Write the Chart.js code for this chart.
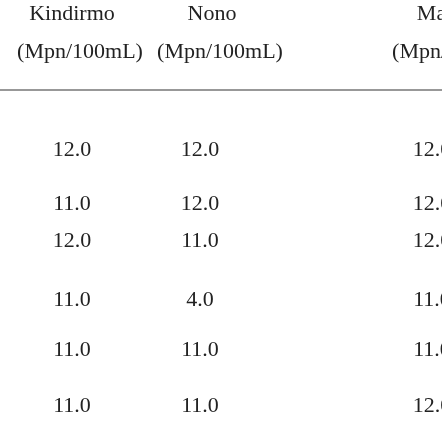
<!DOCTYPE html>
<html><head><meta charset="utf-8">
<script src="https://cdn.jsdelivr.net/npm/chart.js@4"></script>
<style>html,body{margin:0;padding:0;background:#fff}canvas{display:block}</style>
</head><body><canvas id="c" width="442" height="442" style="width:442px;height:442px"></canvas>
<script>
const columns = ["Kindirmo", "Nono", "Mad"];
const units = ["(Mpn/100mL)", "(Mpn/100mL)", "(Mpn/100mL)"];
const kindirmo = ["12.0", "11.0", "12.0", "11.0", "11.0", "11.0"];
const nono = ["12.0", "12.0", "11.0", "4.0", "11.0", "11.0"];
const mad = ["12.0", "12.0", "12.0", "11.0", "11.0", "12.0"];
const rowY = [150, 204, 241, 300, 350, 406];
const colX = [72, 200, 432];
const headX = [72, 212, 437];
const unitX = [80, 220, 455];

const pts = [];
columns.forEach((c,i)=>{pts.push({x:headX[i],y:14,t:c});pts.push({x:unitX[i],y:52,t:units[i]});});
[kindirmo,nono,mad].forEach((arr,i)=>arr.forEach((v,j)=>pts.push({x:colX[i],y:rowY[j],t:v})));

const textPlugin={id:'txt',afterDatasetsDraw(chart){
  const ctx=chart.ctx,xs=chart.scales.x,ys=chart.scales.y;
  ctx.save();ctx.fillStyle='#222';ctx.font='22px "Liberation Serif", serif';
  ctx.textAlign='center';ctx.textBaseline='middle';
  pts.forEach(p=>ctx.fillText(p.t,xs.getPixelForValue(p.x),ys.getPixelForValue(p.y)));
  ctx.restore();}};

new Chart(document.getElementById('c'),{
  type:'scatter',
  data:{datasets:[
    {data:pts.map(p=>({x:p.x,y:p.y})),pointRadius:0,showLine:false},
    {data:[{x:0,y:90},{x:442,y:90}],showLine:true,borderColor:'#333',borderWidth:1.2,pointRadius:0}
  ]},
  options:{responsive:false,animation:false,devicePixelRatio:1,
    layout:{padding:0},
    plugins:{legend:{display:false},tooltip:{enabled:false}},
    scales:{x:{display:false,min:0,max:442},y:{display:false,min:0,max:442,reverse:true}}},
  plugins:[textPlugin]
});
</script></body></html>
